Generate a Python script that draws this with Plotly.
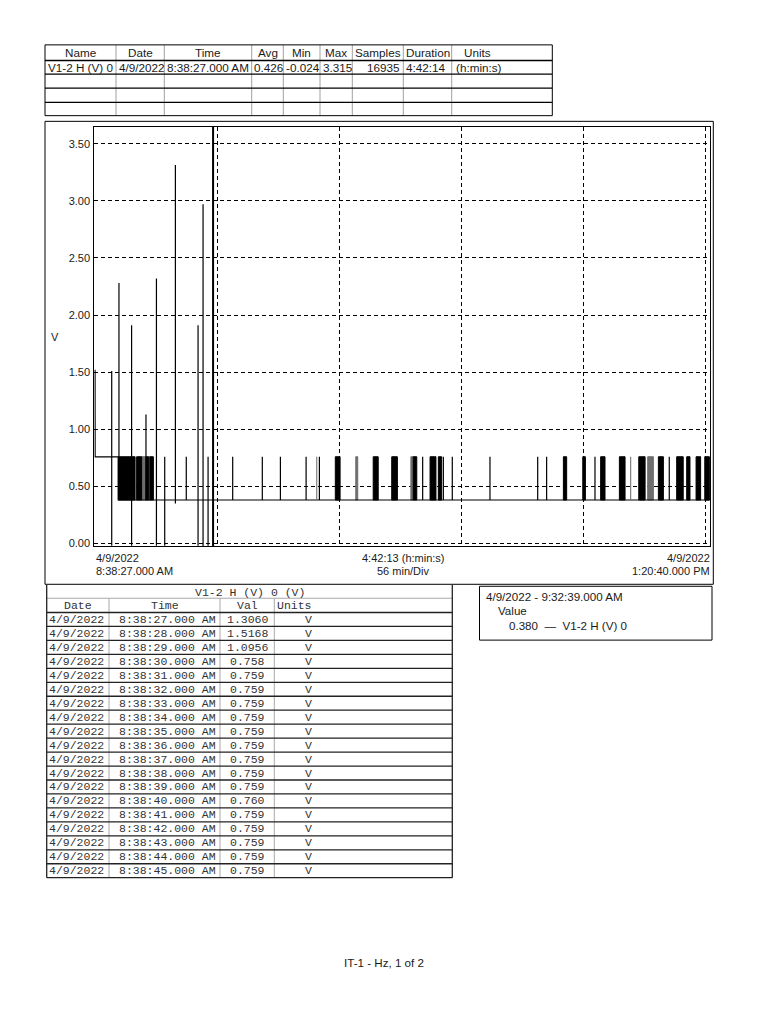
import plotly.graph_objects as go

W, H = 768, 1024

# ---------------- data ----------------
series_name = "V1-2 H (V) 0"
start_date, start_time = "4/9/2022", "8:38:27.000 AM"
end_date, end_time = "4/9/2022", "1:20:40.000 PM"
duration_label = "4:42:13 (h:min:s)"
div_label = "56 min/Div"
total_min = 282.22                      # 4:42:13
x_grid_min = [56, 112, 168, 224, 280]   # 56 min / div
y_ticks = [0.0, 0.5, 1.0, 1.5, 2.0, 2.5, 3.0, 3.5]
cursor_min = 54.2                       # 9:32:39 AM
cursor_label = "4/9/2022 - 9:32:39.000 AM"
cursor_value = "0.380"

LOW, HIGH = 0.380, 0.759

# baseline level (minutes from start, volts)
level_t = [0.0, 1 / 60, 2 / 60, 3 / 60, 10.7, 282.2]
level_v = [1.3060, 1.5168, 1.0956, 0.758, 0.380, 0.380]

# isolated spikes (minutes, low, high)
spike_t = [7.67, 11.0, 16.8, 23.4, 28.2, 32.0, 36.9, 47.3, 49.6, 51.9]
spike_lo = [-0.02, 0.38, -0.02, 0.38, -0.02, -0.02, 0.35, -0.02, -0.024, -0.02]
spike_hi = [1.51, 2.28, 1.91, 1.13, 2.32, 0.76, 3.315, 1.91, 2.97, 0.76]

# single pulses LOW -> HIGH
pulse_t = [41.9, 63.2, 76.8, 85.1, 96.9, 103.0, 150.4, 159.9, 164.0, 181.3,
           203.2, 207.3, 229.5, 263.6]
faint_pulse_t = [101.8, 245.9]

# dense switching periods (appear solid)
dense_start = [10.7, 19.1, 23.4, 25.2, 110.3, 127.7, 136.2, 146.1, 153.8, 157.6,
               215.0, 223.9, 232.1, 240.7, 249.6, 258.6, 267.0, 271.6, 275.9, 279.9]
dense_end = [18.4, 21.4, 24.5, 26.8, 112.5, 130.0, 138.8, 147.7, 156.5, 159.1,
             216.5, 225.1, 234.1, 243.3, 252.5, 260.9, 270.0, 273.1, 278.0, 282.0]
# sparser switching periods (appear gray)
sparse_start = [21.4, 24.5, 119.7, 145.0, 253.7]
sparse_end = [23.4, 25.2, 120.6, 146.1, 256.3]

# summary table
sum_cols = ["Name", "Date", "Time", "Avg", "Min", "Max", "Samples", "Duration", "Units"]
sum_vals = ["V1-2 H (V) 0", "4/9/2022", "8:38:27.000 AM", "0.426", "-0.024", "3.315",
            "16935", "4:42:14", "(h:min:s)"]

# data listing table
tbl_title = "V1-2 H (V) 0 (V)"
tbl_cols = ["Date", "Time", "Val", "Units"]
tbl_dates = ["4/9/2022"] * 19
tbl_times = ["8:38:27.000 AM", "8:38:28.000 AM", "8:38:29.000 AM", "8:38:30.000 AM",
             "8:38:31.000 AM", "8:38:32.000 AM", "8:38:33.000 AM", "8:38:34.000 AM",
             "8:38:35.000 AM", "8:38:36.000 AM", "8:38:37.000 AM", "8:38:38.000 AM",
             "8:38:39.000 AM", "8:38:40.000 AM", "8:38:41.000 AM", "8:38:42.000 AM",
             "8:38:43.000 AM", "8:38:44.000 AM", "8:38:45.000 AM"]
tbl_vals = ["1.3060", "1.5168", "1.0956", "0.758", "0.759", "0.759", "0.759", "0.759",
            "0.759", "0.759", "0.759", "0.759", "0.759", "0.760", "0.759", "0.759",
            "0.759", "0.759", "0.759"]
tbl_units = ["V"] * 19

footer = "IT-1 - Hz, 1 of 2"

# ---------------- helpers ----------------
SANS = "Liberation Sans, Arial, sans-serif"
MONO = "Liberation Mono, Courier New, monospace"


def px(x):
    return x / W


def py(y):
    return 1 - y / H


shapes = []
annos = []


def line(x0, y0, x1, y1, color="black", width=1):
    shapes.append(dict(type="line", xref="paper", yref="paper",
                       x0=px(x0), y0=py(y0), x1=px(x1), y1=py(y1),
                       line=dict(color=color, width=width)))


def rect(x0, y0, x1, y1, color="black", width=1):
    shapes.append(dict(type="rect", xref="paper", yref="paper",
                       x0=px(x0), y0=py(y0), x1=px(x1), y1=py(y1),
                       line=dict(color=color, width=width), fillcolor="rgba(0,0,0,0)"))


def text(x, y, s, anchor="left", size=11.6, family=SANS, color="#1a1a1a"):
    annos.append(dict(xref="paper", yref="paper", x=px(x), y=py(y), text=s,
                      showarrow=False, xanchor=anchor, yanchor="middle",
                      font=dict(family=family, size=size, color=color),
                      borderpad=0))


# ---------------- traces ----------------
fig = go.Figure()

# sparse (gray) blocks
bx, by = [], []
for s, e in zip(sparse_start, sparse_end):
    bx += [s, s, e, e, s, None]
    by += [LOW, HIGH, HIGH, LOW, LOW, None]
fig.add_trace(go.Scatter(x=bx, y=by, mode="lines", fill="toself",
                         fillcolor="#6e6e6e", line=dict(color="#6e6e6e", width=1),
                         hoverinfo="skip", showlegend=False))

# dense (black) blocks
bx, by = [], []
for s, e in zip(dense_start, dense_end):
    bx += [s, s, e, e, s, None]
    by += [LOW, HIGH, HIGH, LOW, LOW, None]
fig.add_trace(go.Scatter(x=bx, y=by, mode="lines", fill="toself",
                         fillcolor="black", line=dict(color="black", width=1),
                         hoverinfo="skip", showlegend=False))

# baseline
fig.add_trace(go.Scatter(x=level_t, y=level_v, mode="lines", line_shape="hv",
                         line=dict(color="black", width=1.2),
                         hoverinfo="skip", showlegend=False))

# faint pulses
fx, fy = [], []
for t in faint_pulse_t:
    fx += [t, t, None]
    fy += [LOW, HIGH, None]
fig.add_trace(go.Scatter(x=fx, y=fy, mode="lines", line=dict(color="#666", width=1),
                         hoverinfo="skip", showlegend=False))

# pulses
fx, fy = [], []
for t in pulse_t:
    fx += [t, t, None]
    fy += [LOW, HIGH, None]
fig.add_trace(go.Scatter(x=fx, y=fy, mode="lines", line=dict(color="black", width=1.2),
                         hoverinfo="skip", showlegend=False))

# spikes
sx, sy = [], []
for t, lo, hi in zip(spike_t, spike_lo, spike_hi):
    sx += [t, t, None]
    sy += [lo, hi, None]
fig.add_trace(go.Scatter(x=sx, y=sy, mode="lines", line=dict(color="black", width=1.2),
                         hoverinfo="skip", showlegend=False))

# ---------------- plot axes ----------------
PX_PER_MIN = 122 / 56
x_left = -(95 - 94.3) / PX_PER_MIN
x_right = (710 - 95) / PX_PER_MIN
PX_PER_V = 114.5
y_bottom = -(548 - 545) / PX_PER_V
y_top = (545 - 127) / PX_PER_V

fig.update_layout(
    width=W, height=H, margin=dict(l=0, r=0, t=0, b=0),
    paper_bgcolor="white", plot_bgcolor="white",
    xaxis=dict(domain=[px(94.3), px(710)], range=[x_left, x_right],
               tickvals=x_grid_min, showticklabels=False, ticks="",
               showgrid=True, gridcolor="black", gridwidth=1, griddash="4px,3px",
               zeroline=False, showline=True, linecolor="black", linewidth=1, mirror=True),
    yaxis=dict(domain=[py(548), py(127)], range=[y_bottom, y_top],
               tickvals=y_ticks, ticktext=[f"{v:.2f}" for v in y_ticks],
               ticks="", ticklabelstandoff=1,
               tickfont=dict(family=SANS, size=11, color="#1a1a1a"),
               showgrid=True, gridcolor="black", gridwidth=1, griddash="4px,3px",
               zeroline=False, showline=True, linecolor="black", linewidth=1, mirror=True),
)

# cursor
shapes.append(dict(type="line", xref="x", yref="paper", x0=cursor_min, x1=cursor_min,
                   y0=py(548), y1=py(127), line=dict(color="black", width=2)))

# outer chart box
rect(45, 121.7, 713.3, 586)

# axis texts
text(50, 337.5, "V", "left", 11)
text(95, 560, start_date, "left", 11)
text(95, 573, start_time, "left", 11)
text(403, 560, duration_label, "center", 11)
text(403, 573, div_label, "center", 11)
text(711, 560, end_date, "right", 11)
text(711, 573, end_time, "right", 11)

# ---------------- summary table ----------------
col_x = [45, 116, 164.3, 251.7, 283.3, 320, 352.3, 403.3, 451.7, 552.3]
row_y = [45, 60.7, 74.3, 88.3, 102.7, 116]
for x in col_x[1:-1]:
    line(x, row_y[0], x, row_y[-1], "#a0a0a0", 1)
for y in row_y[1:-1]:
    line(col_x[0], y, col_x[-1], y, "black", 1.3)
rect(col_x[0], row_y[0], col_x[-1], row_y[-1], "black", 1)
hc = (row_y[0] + row_y[1]) / 2
vc = (row_y[1] + row_y[2]) / 2
HS = 11.7
for i, name in enumerate(sum_cols):
    cx = (col_x[i] + col_x[i + 1]) / 2
    if name == "Units":
        cx = 477
    text(cx, hc, name, "center", HS)
for i, v in enumerate(sum_vals):
    if sum_cols[i] == "Samples":
        text(col_x[i + 1] - 2, vc, v, "right", HS)
    elif sum_cols[i] == "Units":
        text(col_x[i] + 3.5, vc, v, "left", HS)
    else:
        text(col_x[i] + 1.5, vc, v, "left", HS)

# ---------------- data listing table ----------------
tc = [46.7, 109, 220, 274.3, 452.3]
t_top, t_title, t_head = 586.7, 600, 614.3
rh = 14
n = len(tbl_times)
t_bot = t_head + rh * n
for x in tc[1:-1]:
    line(x, t_title, x, t_bot, "#a8a8a8", 1)
line(tc[0], t_title, tc[-1], t_title, "#a8a8a8", 1)
for i in range(n + 1):
    line(tc[0], t_head + rh * i, tc[-1], t_head + rh * i, "#222", 1.3)
line(tc[0], t_top, tc[0], t_bot, "#222", 1.3)
line(tc[-1], t_top, tc[-1], t_bot, "#222", 1.3)
MS = 11.5
MC = "#333"
text((tc[0] + tc[-1]) / 2, (t_top + t_title) / 2 + 0.5, tbl_title, "center", MS, MONO, MC)
hy = (t_title + t_head) / 2
text((tc[0] + tc[1]) / 2, hy, tbl_cols[0], "center", MS, MONO, MC)
text((tc[1] + tc[2]) / 2, hy, tbl_cols[1], "center", MS, MONO, MC)
text((tc[2] + tc[3]) / 2, hy, tbl_cols[2], "center", MS, MONO, MC)
text(tc[3] + 2, hy, tbl_cols[3], "left", MS, MONO, MC)
for i in range(n):
    y = t_head + rh * i + rh / 2
    text(47.5, y, tbl_dates[i], "left", MS, MONO, MC)
    text(216.5, y, tbl_times[i], "right", MS, MONO, MC)
    text((tc[2] + tc[3]) / 2 + 0.5, y, tbl_vals[i], "center", MS, MONO, MC)
    text(308, y, tbl_units[i], "center", MS, MONO, MC)

# ---------------- cursor value box ----------------
rect(479.5, 588, 712, 642)
text(485, 598.5, cursor_label, "left")
text(497, 612.5, "Value", "left")
text(508, 627, f"{cursor_value}  \u2014  {series_name}", "left")

# footer
text(384, 965, footer, "center", 11.6)

fig.update_layout(shapes=shapes, annotations=annos)
fig.write_html("out.html", config={"displayModeBar": False},
               post_script="document.body.style.margin='0';document.body.style.padding='0';")
